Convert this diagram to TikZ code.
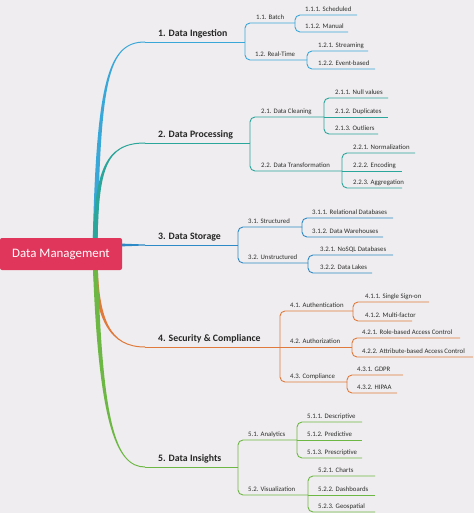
\documentclass[tikz,border=0pt]{standalone}
\usepackage{fontspec}
\setmainfont{Carlito}
\usetikzlibrary{calc}
\definecolor{bgc}{HTML}{EFEDEF}
\definecolor{rootc}{HTML}{E0365B}
\definecolor{cA}{HTML}{3AA7D9}
\definecolor{cB}{HTML}{2AA69B}
\definecolor{cC}{HTML}{2E8AC6}
\definecolor{cD}{HTML}{E07A3C}
\definecolor{cE}{HTML}{6DB844}
\definecolor{txt}{HTML}{2E2E2E}
% #1 colour, #2 junction, #3 name, #4 child y, #5 end x, #6 label x, #7 text
\newcommand\kid[7]{%
  \coordinate (#3-e) at (#5,#4);
  \draw[twig,#1] (#2) |- (#3-e);
  \node[lbl] (#3) at (#6,#4-3.5) {#7};}
\newcommand\kidm[7]{%
  \coordinate (#3-e) at (#5,#4);
  \draw[twig,#1] (#2) -- (#3-e);
  \node[lbl] (#3) at (#6,#4-3.5) {#7};}
\begin{document}
\begin{tikzpicture}[x=1pt,y=-1pt,
  lbl/.style={font=\fontsize{6.8}{7.5}\selectfont, text=txt, inner sep=0pt, anchor=base west},
  mainlbl/.style={font=\fontsize{9.8}{11}\selectfont\bfseries, text=black!85, inner sep=0pt, anchor=base west},
  twig/.style={line width=0.9pt, rounded corners=5pt},
  stem/.style={line width=0.9pt},
]
\fill[bgc] (0,0) rectangle (474,513);
\useasboundingbox (0,0) rectangle (474,513);

% trunks
\fill[cA] (92.5,252) .. controls (96,80) and (108,41.5) .. (145,41.5) -- (145,42.5) .. controls (108,42.5) and (100,80) .. (97.5,252) -- cycle;
\fill[cB] (92.5,252) .. controls (94,170) and (105,142.5) .. (145,142.5) -- (145,143.5) .. controls (105,143.5) and (98,170) .. (97.5,252) -- cycle;
\fill[cC] (100,242.8) -- (145,244.5) -- (145,245.5) -- (100,247.2) -- cycle;
\fill[cD] (92.5,256) .. controls (94,320) and (110,347.5) .. (145,347.5) -- (145,346.5) .. controls (110,346.5) and (98,320) .. (97.5,256) -- cycle;
\fill[cE] (92.5,256) .. controls (98,420) and (115,467.5) .. (145,467.5) -- (145,466.5) .. controls (115,466.5) and (102,420) .. (97.5,256) -- cycle;

\node[fill=rootc, rounded corners=2pt, minimum width=122pt, minimum height=32pt, text=white,
  font=\fontsize{12.9}{14}\selectfont, inner sep=0pt] (root) at (61,254) {Data Management};

% ---------- 1
\coordinate (t1) at (145,42); \coordinate (j1) at (245,42);
\draw[stem,cA] (t1) -- (j1);
\node[mainlbl] (m1) at (158,42-5.5) {1. Data Ingestion};
\kid{cA}{j1}{n11}{23}{295}{256}{1.1. Batch}
\kid{cA}{j1}{n12}{60}{307}{255}{1.2. Real-Time}
\kid{cA}{n11-e}{n111}{15}{357}{305}{1.1.1. Scheduled}
\kid{cA}{n11-e}{n112}{32}{348}{305}{1.1.2. Manual}
\kid{cA}{n12-e}{n121}{51}{368}{318}{1.2.1. Streaming}
\kid{cA}{n12-e}{n122}{69}{375}{318}{1.2.2. Event-based}

% ---------- 2
\coordinate (t2) at (145,143); \coordinate (j2) at (250,143);
\draw[stem,cB] (t2) -- (j2);
\node[mainlbl] (m2) at (158,143-5.5) {2. Data Processing};
\kid{cB}{j2}{n21}{117}{324}{261}{2.1. Data Cleaning}
\kid{cB}{j2}{n22}{171}{342}{261}{2.2. Data Transformation}
\kid{cB}{n21-e}{n211}{98}{388}{335}{2.1.1. Null values}
\kidm{cB}{n21-e}{n212}{117}{388}{335}{2.1.2. Duplicates}
\kid{cB}{n21-e}{n213}{134}{378}{335}{2.1.3. Outliers}
\kid{cB}{n22-e}{n221}{153}{415}{353}{2.2.1. Normalization}
\kidm{cB}{n22-e}{n222}{171}{402}{353}{2.2.2. Encoding}
\kid{cB}{n22-e}{n223}{188}{402}{353}{2.2.3. Aggregation}

% ---------- 3
\coordinate (t3) at (145,245); \coordinate (j3) at (238,245);
\draw[stem,cC] (t3) -- (j3);
\node[mainlbl] (m3) at (158,245-5.5) {3. Data Storage};
\kid{cC}{j3}{n31}{227}{302}{248}{3.1. Structured}
\kid{cC}{j3}{n32}{263}{308}{248}{3.2. Unstructured}
\kid{cC}{n31-e}{n311}{218}{393}{312}{3.1.1. Relational Databases}
\kid{cC}{n31-e}{n312}{237}{383}{312}{3.1.2. Data Warehouses}
\kid{cC}{n32-e}{n321}{255}{393}{320}{3.2.1. NoSQL Databases}
\kid{cC}{n32-e}{n322}{273}{372}{320}{3.2.2. Data Lakes}

% ---------- 4
\coordinate (t4) at (145,347); \coordinate (j4) at (280,347);
\draw[stem,cD] (t4) -- (j4);
\node[mainlbl] (m4) at (158,347-5.5) {4. Security \& Compliance};
\kid{cD}{j4}{n41}{311}{353}{290}{4.1. Authentication}
\kidm{cD}{j4}{n42}{347}{352}{290}{4.2. Authorization}
\kid{cD}{j4}{n43}{382}{347}{290}{4.3. Compliance}
\kid{cD}{n41-e}{n411}{302}{429}{365}{4.1.1. Single Sign-on}
\kid{cD}{n41-e}{n412}{321}{412}{365}{4.1.2. Multi-factor}
\kid{cD}{n42-e}{n421}{338}{460}{362}{4.2.1. Role-based Access Control}
\kid{cD}{n42-e}{n422}{357}{473}{362}{4.2.2. Attribute-based Access Control}
\kid{cD}{n43-e}{n431}{375}{403}{357}{4.3.1. GDPR}
\kid{cD}{n43-e}{n432}{393}{397}{357}{4.3.2. HIPAA}

% ---------- 5
\coordinate (t5) at (145,467); \coordinate (j5) at (238,467);
\draw[stem,cE] (t5) -- (j5);
\node[mainlbl] (m5) at (158,467-5.5) {5. Data Insights};
\kid{cE}{j5}{n51}{440}{297}{248}{5.1. Analytics}
\kid{cE}{j5}{n52}{495}{308}{248}{5.2. Visualization}
\kid{cE}{n51-e}{n511}{422}{362}{307}{5.1.1. Descriptive}
\kidm{cE}{n51-e}{n512}{440}{362}{307}{5.1.2. Predictive}
\kid{cE}{n51-e}{n513}{458}{362}{307}{5.1.3. Prescriptive}
\kid{cE}{n52-e}{n521}{476}{375}{318}{5.2.1. Charts}
\kidm{cE}{n52-e}{n522}{495}{375}{318}{5.2.2. Dashboards}
\kid{cE}{n52-e}{n523}{512}{375}{318}{5.2.3. Geospatial}
\end{tikzpicture}
\end{document}
